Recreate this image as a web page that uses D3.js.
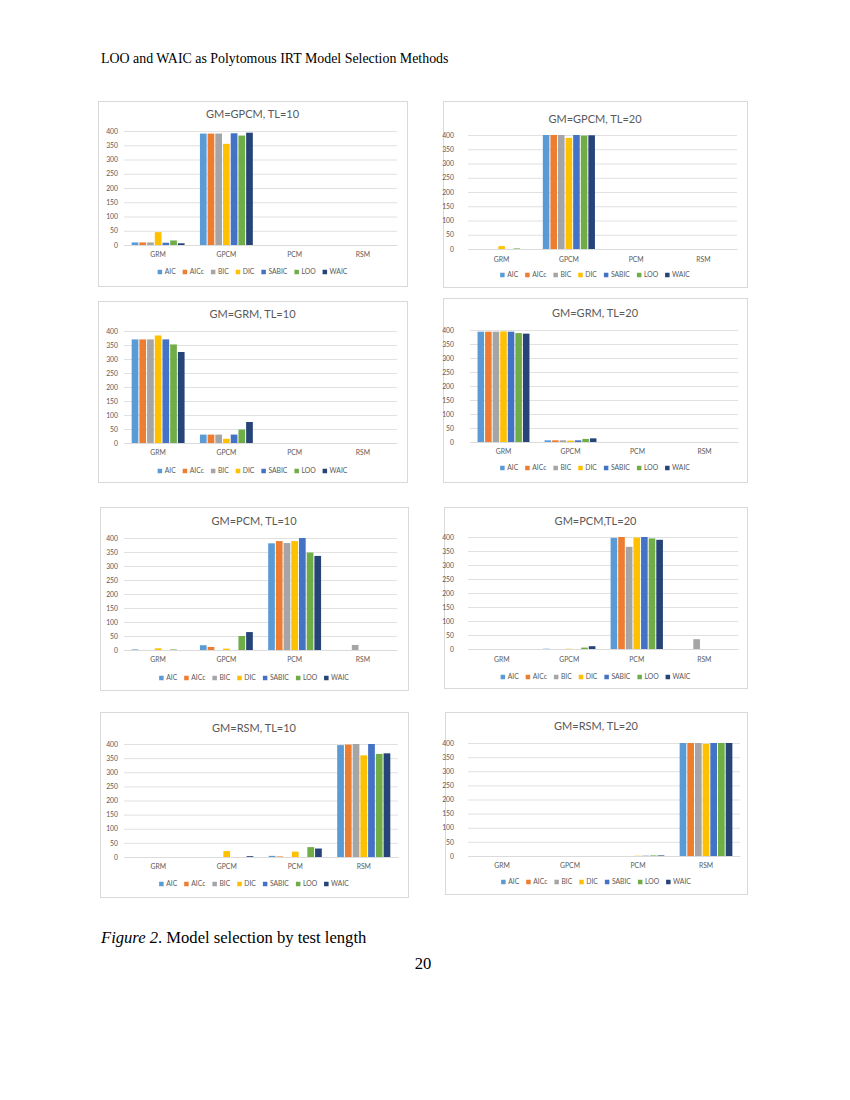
<!DOCTYPE html>
<head>
    <meta charset="utf-8">
    <title>Model selection by test length</title>
    <script src="https://d3js.org/d3.v7.min.js"></script>
    <style>
      body { margin: 0; background: #fff; }
      text { font-family: Lato, "Open Sans", sans-serif; }
      .serif { font-family: "Liberation Serif", "DejaVu Serif", serif; fill: #000; }
    </style>
</head>
<body>

  <div id="my_dataviz"></div>

  <script>

  // categories (fitted models) and selection criteria
  var categories = ["GRM", "GPCM", "PCM", "RSM"];
  var criteria = ["AIC", "AICc", "BIC", "DIC", "SABIC", "LOO", "WAIC"];
  var yTicks = [0, 50, 100, 150, 200, 250, 300, 350, 400];

  var titles = ["GM=GPCM, TL=10", "GM=GPCM, TL=20", "GM=GRM, TL=10", "GM=GRM, TL=20",
                "GM=PCM, TL=10", "GM=PCM,TL=20", "GM=RSM, TL=10", "GM=RSM, TL=20"];

  // one row per category (GRM, GPCM, PCM, RSM), one value per criterion
  var gpcm10 = [[9, 9, 9, 45, 8, 16, 6],
                [391, 391, 391, 355, 392, 384, 394],
                [0, 0, 0, 0, 0, 0, 0],
                [0, 0, 0, 0, 0, 0, 0]];
  var gpcm20 = [[0, 0, 0, 10, 0, 2, 0],
                [400, 400, 400, 390, 400, 398, 399],
                [0, 0, 0, 0, 0, 0, 0],
                [0, 0, 0, 0, 0, 0, 0]];
  var grm10  = [[370, 370, 370, 384, 370, 352, 325],
                [30, 30, 30, 15, 30, 48, 75],
                [0, 0, 0, 0, 0, 0, 0],
                [0, 0, 0, 0, 0, 0, 0]];
  var grm20  = [[394, 394, 394, 395, 394, 389, 387],
                [6, 6, 6, 5, 6, 11, 13],
                [0, 0, 0, 0, 0, 0, 0],
                [0, 0, 0, 0, 0, 0, 0]];
  var pcm10  = [[2, 0, 0, 6, 0, 2, 0],
                [17, 11, 0, 5, 0, 50, 64],
                [381, 389, 382, 389, 400, 348, 336],
                [0, 0, 18, 0, 0, 0, 0]];
  var pcm20  = [[0, 0, 0, 0, 0, 0, 0],
                [1, 0, 0, 1, 0, 5, 10],
                [397, 400, 365, 398, 400, 395, 390],
                [0, 0, 35, 0, 0, 0, 0]];
  var rsm10  = [[0, 0, 0, 0, 0, 0, 0],
                [0, 0, 0, 21, 0, 0, 3],
                [4, 2, 0, 19, 0, 35, 30],
                [396, 398, 400, 360, 400, 365, 367]];
  var rsm20  = [[0, 0, 0, 0, 0, 0, 0],
                [0, 0, 0, 0, 0, 0, 0],
                [0, 0, 0, 1, 1, 2, 2],
                [400, 400, 400, 397, 400, 400, 400]];

  var panelData = [gpcm10, gpcm20, grm10, grm20, pcm10, pcm20, rsm10, rsm20];

  // excel office palette
  var colors = ["#5B9BD5", "#ED7D31", "#A5A5A5", "#FFC000", "#4472C4", "#70AD47", "#264478"];

  // where each chart box sits on the page (pixels)
  var layout = [
    {box: [98, 101, 407, 286], px: [124, 397], py: [131, 245], title: 114, cat: 255, legend: 272, lab: 118},
    {box: [443, 101, 747, 287], px: [468, 737], py: [135, 249], title: 119, cat: 260, legend: 275, lab: 454},
    {box: [98, 301, 407, 482], px: [124, 397], py: [331, 443], title: 314, cat: 453, legend: 471, lab: 118},
    {box: [443, 298, 747, 482], px: [470, 738], py: [330, 442], title: 313, cat: 452, legend: 468, lab: 454},
    {box: [100, 507, 408, 690], px: [124, 397], py: [538, 650], title: 521, cat: 660, legend: 678, lab: 118},
    {box: [444, 507, 747, 688], px: [468, 738], py: [537, 649], title: 521, cat: 660, legend: 677, lab: 454},
    {box: [100, 712, 408, 897], px: [124, 398], py: [744, 857], title: 728, cat: 867, legend: 884, lab: 118},
    {box: [445, 712, 747, 894], px: [468, 740], py: [743, 856], title: 726, cat: 866, legend: 882, lab: 454}
  ];

  var svg = d3.select("#my_dataviz")
    .append("svg")
      .attr("width", 850)
      .attr("height", 1100);

  // page header
  svg.append("text")
    .attr("class", "serif")
    .attr("x", 101)
    .attr("y", 63)
    .style("font-size", "13.9px")
    .text("LOO and WAIC as Polytomous IRT Model Selection Methods");

  layout.forEach(function(L, i) {
    var data = panelData[i];
    var g = svg.append("g");

    // chart border
    g.append("rect")
      .attr("x", L.box[0] + 0.5)
      .attr("y", L.box[1] + 0.5)
      .attr("width", L.box[2] - L.box[0])
      .attr("height", L.box[3] - L.box[1])
      .attr("fill", "#fff")
      .attr("stroke", "#D9D9D9");

    var cx = (L.box[0] + L.box[2]) / 2;

    g.append("text")
      .attr("x", cx)
      .attr("y", L.title + 3.8)
      .attr("text-anchor", "middle")
      .style("font-size", "11px")
      .style("fill", "#595959")
      .text(titles[i]);

    var x0 = d3.scaleBand()
      .domain(categories)
      .range(L.px)
      .paddingInner(0.21)
      .paddingOuter(0.105);

    var x1 = d3.scaleBand()
      .domain(criteria)
      .range([0, x0.bandwidth()]);

    var y = d3.scaleLinear()
      .domain([0, 400])
      .range([L.py[1], L.py[0]]);

    // gridlines
    g.append("g")
      .attr("transform", "translate(" + L.px[0] + ",0)")
      .call(d3.axisLeft(y).tickValues(yTicks).tickSize(-(L.px[1] - L.px[0])).tickFormat(""))
      .call(function(a) {
        a.select(".domain").remove();
        a.selectAll("line").attr("stroke", "#D9D9D9").attr("stroke-width", 0.8);
      });

    // y labels
    g.append("g")
      .attr("transform", "translate(" + L.lab + ",0)")
      .call(d3.axisLeft(y).tickValues(yTicks).tickSize(0).tickPadding(0))
      .call(function(a) {
        a.select(".domain").remove();
        a.selectAll("text").style("font-size", "6.8px").style("fill", "#595959")
          .style("font-family", "Lato, 'Open Sans', sans-serif");
      });

    // bars
    g.append("g")
      .selectAll("g")
      .data(data)
      .enter()
      .append("g")
        .attr("transform", function(d, k) { return "translate(" + x0(categories[k]) + ",0)"; })
      .selectAll("rect")
      .data(function(d) { return d; })
      .enter()
      .append("rect")
        .attr("x", function(d, k) { return x1(criteria[k]) + 0.5; })
        .attr("width", x1.bandwidth() - 1)
        .attr("y", function(d) { return y(d); })
        .attr("height", function(d) { return y(0) - y(d); })
        .attr("fill", function(d, k) { return colors[k]; });

    // category axis
    g.append("g")
      .attr("transform", "translate(0," + y(0) + ")")
      .call(d3.axisBottom(x0).tickSize(0).tickPadding(0))
      .call(function(a) {
        a.select(".domain").attr("stroke", "#D9D9D9").attr("stroke-width", 0.8);
        a.selectAll("text")
          .attr("y", L.cat - y(0) + 2.4)
          .attr("dy", null)
          .style("font-size", "6.8px").style("fill", "#595959")
          .style("font-family", "Lato, 'Open Sans', sans-serif");
      });

    // legend, centred in the box
    var leg = g.append("g");
    var items = leg.selectAll("g")
      .data(criteria)
      .enter()
      .append("g");
    items.append("rect")
      .attr("width", 4.5)
      .attr("height", 4.5)
      .attr("y", L.legend - 2.25)
      .attr("fill", function(d, k) { return colors[k]; });
    items.append("text")
      .attr("x", 7)
      .attr("y", L.legend + 2.4)
      .style("font-size", "6.8px")
      .style("fill", "#595959")
      .text(function(d) { return d; });
    var pos = 0;
    var offs = [];
    items.each(function() {
      offs.push(pos);
      pos += 7 + d3.select(this).select("text").node().getComputedTextLength() + 7;
    });
    var total = pos - 7;
    items.attr("transform", function(d, k) { return "translate(" + (cx - total / 2 + offs[k]) + ",0)"; });
  });

  // caption and page number
  var cap = svg.append("text")
    .attr("class", "serif")
    .attr("x", 101)
    .attr("y", 943)
    .style("font-size", "16.6px");
  cap.append("tspan").style("font-style", "italic").text("Figure 2");
  cap.append("tspan").text(". Model selection by test length");

  svg.append("text")
    .attr("class", "serif")
    .attr("x", 423)
    .attr("y", 969)
    .attr("text-anchor", "middle")
    .style("font-size", "16.6px")
    .text("20");

  </script>
</body>
